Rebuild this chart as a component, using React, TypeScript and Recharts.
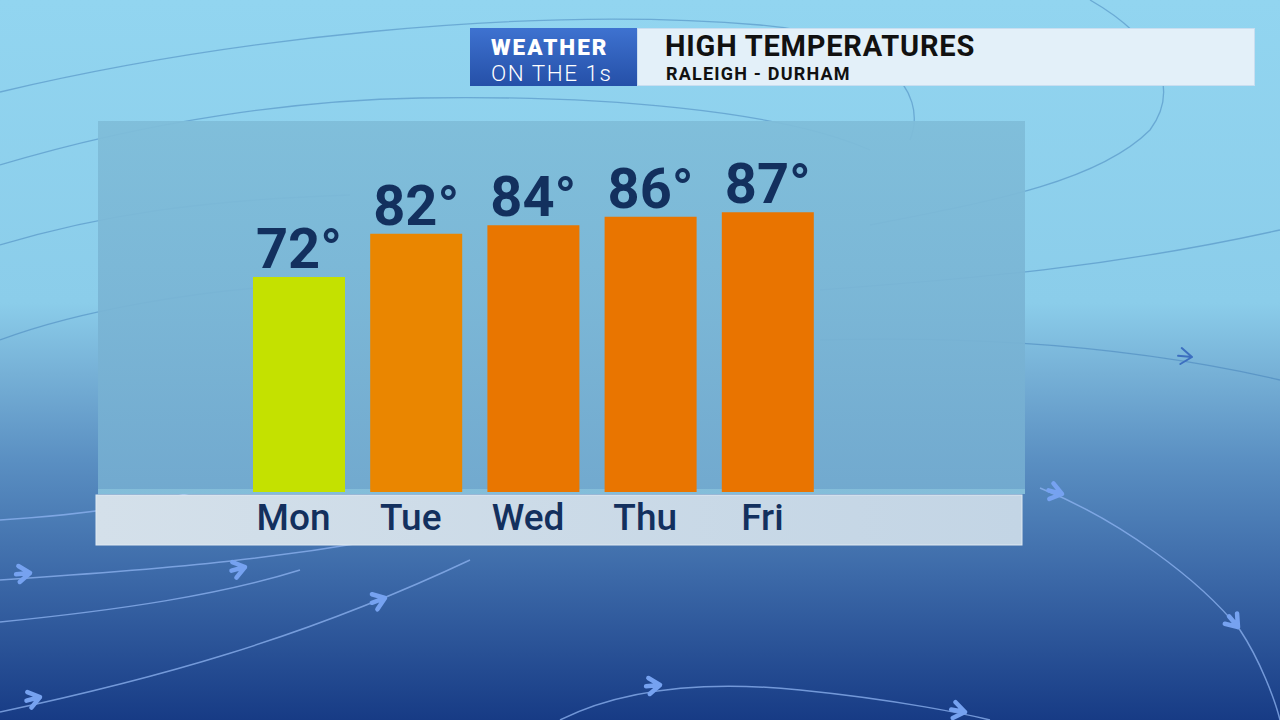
import { BarChart, Bar, XAxis, YAxis, Cell, LabelList } from "recharts";

// High temperatures, Raleigh - Durham
const days = ["Mon", "Tue", "Wed", "Thu", "Fri"];
const highs = [72, 82, 84, 86, 87];
const barColors = ["#c4e100", "#ea8600", "#e97600", "#e97500", "#e97400"];
const yDomain = [22, 108];

const data = days.map((day, i) => ({ day, high: highs[i] }));

const NAVY = "#13305e";

const ValueLabel = (props: any) => {
  const { x, y, width, value } = props;
  return (
    <text
      x={x + width / 2}
      y={y - 9}
      textAnchor="middle"
      fill={NAVY}
      fontFamily="Roboto, 'Open Sans', sans-serif"
      fontWeight={700}
      fontSize={56}
    >
      {value}°
    </text>
  );
};

const DayTick = ({ x, y, payload }: any) => (
  <text
    x={x - 5}
    y={y + 38}
    textAnchor="middle"
    fill={NAVY}
    fontFamily="Roboto, sans-serif"
    fontWeight={500}
    fontSize={37}
  >
    {payload.value}
  </text>
);

// decorative wind streamlines behind the chart
const darkLines = [
  "M0,92 C220,40 520,5 760,25 C880,35 930,90 910,140",
  "M0,165 C150,120 300,100 420,98 C600,95 780,110 870,150",
  "M1090,0 C1160,40 1180,90 1150,130 C1100,180 1000,200 870,225",
  "M0,245 C100,215 200,200 350,195",
  "M820,290 C950,280 1100,270 1280,230",
  "M0,340 C80,310 200,290 300,285",
  "M820,340 C1000,335 1150,350 1280,380",
];
const lightLines = [
  "M0,580 C150,570 300,560 480,520",
  "M0,712 C150,680 300,640 470,560",
  "M0,622 C120,610 220,595 300,570",
  "M560,720 C620,690 700,680 800,690 C900,700 970,715 990,720",
  "M1040,488 C1120,520 1200,580 1240,630 C1260,660 1275,700 1280,720",
  "M0,520 C80,515 150,505 200,490",
];
const chevrons = [
  [40, 697, -15],
  [385, 598, -20],
  [245, 567, -15],
  [30, 573, -5],
  [660, 685, -5],
  [965, 712, 10],
  [1062, 494, 15],
  [1238, 627, 50],
  [1192, 357, 5],
];

export default function App() {
  return (
    <div style={{ position: "fixed", left: 0, top: 0, width: 1280, height: 720, overflow: "hidden" }}>
      <svg width={1280} height={720} style={{ position: "absolute", left: 0, top: 0 }}>
        <defs>
          <linearGradient id="sky" x1="0" y1="0" x2="0" y2="1">
            <stop offset="0" stopColor="#92d5f0" />
            <stop offset="0.42" stopColor="#8bcdea" />
            <stop offset="0.52" stopColor="#76b0d6" />
            <stop offset="0.64" stopColor="#5a8fc2" />
            <stop offset="0.8" stopColor="#3c69a8" />
            <stop offset="1" stopColor="#173b85" />
          </linearGradient>
          <linearGradient id="panel" x1="0" y1="0" x2="0" y2="1">
            <stop offset="0" stopColor="#7fbdd9" />
            <stop offset="1" stopColor="#74acd0" />
          </linearGradient>
          <linearGradient id="strip" x1="0" y1="0" x2="1" y2="0">
            <stop offset="0" stopColor="#d4e0ea" />
            <stop offset="1" stopColor="#c3d5e5" />
          </linearGradient>
          <linearGradient id="badge" x1="0" y1="0" x2="0" y2="1">
            <stop offset="0" stopColor="#3e72d0" />
            <stop offset="1" stopColor="#2550a8" />
          </linearGradient>
        </defs>
        <rect x={0} y={0} width={1280} height={720} fill="url(#sky)" />
        {darkLines.map((d, i) => (
          <path key={i} d={d} fill="none" stroke="#3c78b4" strokeOpacity={0.45} strokeWidth={1.3} />
        ))}
        {lightLines.map((d, i) => (
          <path key={i} d={d} fill="none" stroke="#8fb4f2" strokeOpacity={0.75} strokeWidth={1.5} />
        ))}
        {chevrons.map(([cx, cy, rot], i) => (
          <path
            key={i}
            d="M-11,-8 L0,0 L-11,8 M-14,0 L0,0"
            transform={`translate(${cx},${cy}) rotate(${rot})`}
            fill="none"
            stroke={cy > 450 ? "#76a2f0" : "#3c6fc0"}
            strokeWidth={cy > 450 ? 4.5 : 2}
            strokeLinecap="round"
            strokeLinejoin="round"
          />
        ))}
        <rect x={98} y={121} width={927} height={373} fill="url(#panel)" fillOpacity={0.93} />
        <rect x={98} y={489} width={927} height={5} fill="#8cc6de" fillOpacity={0.7} />
        <rect x={96} y={495} width={926} height={50} fill="url(#strip)" stroke="#e0eaf2" strokeWidth={1} />

        {/* header */}
        <rect x={470} y={28} width={167} height={58} fill="url(#badge)" />
        <rect x={637.5} y={28.5} width={617} height={57} fill="#e3f0f9" stroke="#c9def0" />
        <text x={491} y={55} fill="#fff" fontFamily="Roboto, sans-serif" fontWeight={900} fontSize={22.5} letterSpacing={2}>
          WEATHER
        </text>
        <text x={491} y={81} fill="#fff" fontFamily="Roboto, sans-serif" fontWeight={300} fontSize={22.5} letterSpacing={1.5}>
          ON THE 1s
        </text>
        <text x={665} y={56} fill="#111" fontFamily="Roboto, sans-serif" fontWeight={700} fontSize={29} letterSpacing={0.8}>
          HIGH TEMPERATURES
        </text>
        <text x={666} y={80} fill="#111" fontFamily="Roboto, sans-serif" fontWeight={700} fontSize={18} letterSpacing={1.2}>
          RALEIGH - DURHAM
        </text>
      </svg>

      <div style={{ position: "absolute", left: 0, top: 0 }}>
        <BarChart
          width={1280}
          height={720}
          data={data}
          margin={{ top: 122, right: 454, bottom: 188, left: 240 }}
        >
          <XAxis
            dataKey="day"
            height={40}
            axisLine={false}
            tickLine={false}
            tickSize={0}
            tickMargin={0}
            tick={<DayTick />}
            interval={0}
          />
          <YAxis hide domain={yDomain} />
          <Bar dataKey="high" barSize={92} isAnimationActive={false}>
            {data.map((d, i) => (
              <Cell key={d.day} fill={barColors[i]} />
            ))}
            <LabelList dataKey="high" content={<ValueLabel />} />
          </Bar>
        </BarChart>
      </div>
    </div>
  );
}
